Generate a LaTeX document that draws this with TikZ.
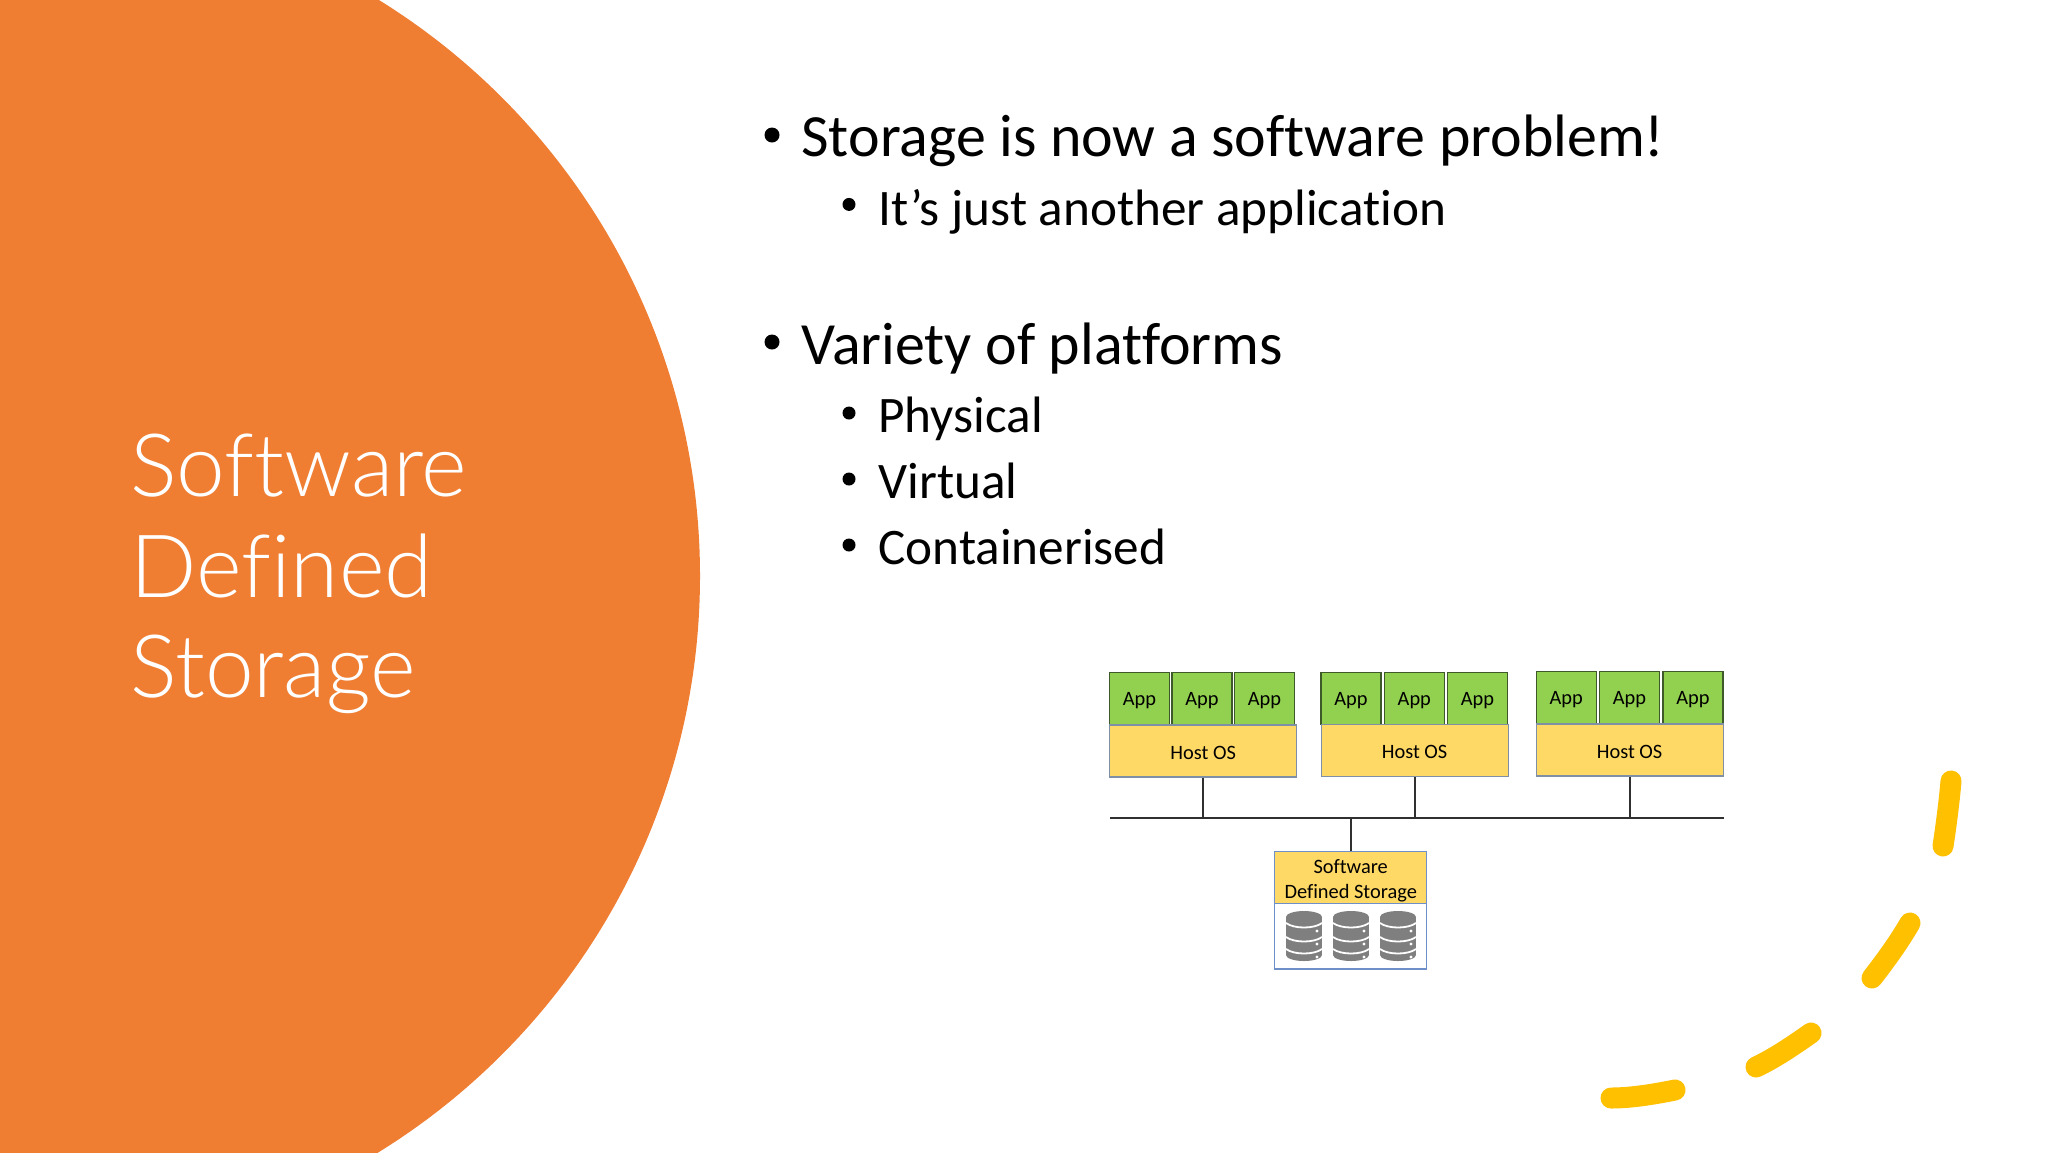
\documentclass[tikz,border=0pt]{standalone}
\usepackage{fontspec}
\setmainfont{Carlito}[Ligatures=NoCommon]
\newfontfamily\titlefont{Lato}[UprightFont=* Light,Ligatures=NoCommon]
\definecolor{orangeC}{HTML}{EF7D32}
\definecolor{appG}{HTML}{92D050}
\definecolor{appEdge}{HTML}{3F5A2A}
\definecolor{hostY}{HTML}{FFD966}
\definecolor{hostEdge}{HTML}{7F8FA6}
\definecolor{stoEdge}{HTML}{6F8FC8}
\definecolor{dashY}{HTML}{FFC000}
\definecolor{diskG}{HTML}{7F7F7F}
\definecolor{lineK}{HTML}{303030}
\tikzset{
  x=0.5pt,y=-0.5pt,
  title/.style={anchor=base west,inner sep=0pt,text=white,font=\titlefont\fontsize{43.7}{44}\selectfont},
  lvlA/.style={anchor=base west,inner sep=0pt,text=black,font=\fontsize{29.95}{30}\selectfont},
  lvlB/.style={anchor=base west,inner sep=0pt,text=black,font=\fontsize{25.6}{26}\selectfont},
  dotA/.style={circle,fill=black,inner sep=0pt,minimum size=7.5pt},
  dotB/.style={circle,fill=black,inner sep=0pt,minimum size=6.5pt},
  app/.style={draw=appEdge,line width=0.6pt,fill=appG,inner sep=0pt,minimum width=30pt,minimum height=26pt,text height=7.1pt,text depth=0pt,font=\fontsize{10.2}{12}\selectfont},
  host/.style={draw=hostEdge,line width=0.6pt,fill=hostY,inner sep=0pt,minimum width=93.5pt,minimum height=26pt,text height=8.2pt,text depth=0pt,font=\fontsize{10.2}{12}\selectfont},
  sdshead/.style={draw=stoEdge,line width=0.6pt,fill=hostY,inner sep=0pt,minimum width=76pt,minimum height=26pt,align=center,font=\fontsize{10.2}{12.5}\selectfont},
  sdsbody/.style={draw=stoEdge,line width=0.6pt,fill=white,inner sep=0pt,minimum width=76pt,minimum height=32.6pt},
  wire/.style={draw=lineK,line width=0.9pt},
  yellowdash/.style={draw=dashY,line width=10.5pt,line cap=round},
  disk/.pic={
    \fill[diskG] (-18,-19) rectangle (18,19);
    \fill[diskG] (0,-19) ellipse [x radius=18,y radius=6];
    \fill[diskG] (0,19) ellipse [x radius=18,y radius=6];
    \draw[white,line width=0.9pt] (-18,-13) .. controls (-10,-7) and (10,-7) .. (18,-13);
    \draw[white,line width=0.9pt] (-18,1) .. controls (-10,7) and (10,7) .. (18,1);
    \draw[white,line width=0.9pt] (-18,13) .. controls (-10,19) and (10,19) .. (18,13);
    \fill[white] (13,-5) circle[radius=1.6];
    \fill[white] (13,8) circle[radius=1.6];
    \fill[white] (13,21) circle[radius=1.6];
  }
}
\begin{document}
\begin{tikzpicture}
\useasboundingbox (0,0) rectangle (2048,1152);
\clip (0,0) rectangle (2048,1152);
\fill[white] (0,0) rectangle (2048,1152);
\fill[orangeC] (23,576) circle[radius=677];

\node[title] (t1) at (130,496) {Software};
\node[title] (t2) at (130,597) {Defined};
\node[title] (t3) at (130,697.5) {Storage};

\node[dotA] (b1) at (772,135) {};
\node[lvlA] (l1) at (801,156) {Storage is now a software problem!};
\node[dotB] (b2) at (849,204.4) {};
\node[lvlB] (l2) at (878,225) {It’s just another application};
\node[dotA] (b3) at (772,342) {};
\node[lvlA] (l3) at (801,364) {Variety of platforms};
\node[dotB] (b4) at (849,413) {};
\node[lvlB] (l4) at (878,432) {Physical};
\node[dotB] (b5) at (849,479) {};
\node[lvlB] (l5) at (878,498) {Virtual};
\node[dotB] (b6) at (849,545) {};
\node[lvlB] (l6) at (878,564) {Containerised};

% group 1
\node[app] (a11) at (1139.5,698.7) {App};
\node[app] (a12) at (1202,698.7) {App};
\node[app] (a13) at (1264.5,698.7) {App};
\node[host] (h1) at (1203.2,751) {Host OS};
% group 2
\node[app] (a21) at (1350.9,698.2) {App};
\node[app] (a22) at (1414.3,698.2) {App};
\node[app] (a23) at (1477.5,698.2) {App};
\node[host] (h2) at (1414.6,750.5) {Host OS};
% group 3
\node[app] (a31) at (1566.2,697.8) {App};
\node[app] (a32) at (1629.5,697.8) {App};
\node[app] (a33) at (1692.9,697.8) {App};
\node[host] (h3) at (1629.6,750) {Host OS};

\coordinate (busL) at (1110,817.6);
\coordinate (busR) at (1724,817.6);
\draw[wire] (busL) -- (busR);
\draw[wire] (h1.south) -- (h1.south |- busL);
\draw[wire] (h2.south) -- (h2.south |- busL);
\draw[wire] (h3.south) -- (h3.south |- busL);

\node[sdsbody] (sb) at (1350.7,936.4) {};
\node[sdshead] (sh) at (1350.7,877.6) {\rule{0pt}{10pt}Software\\Defined Storage};
\draw[wire] (sh.north |- busL) -- (sh.north);

\pic at (1304,936) {disk};
\pic at (1351,936) {disk};
\pic at (1398,936) {disk};

\coordinate (d1a) at (1951,781); \coordinate (d1b) at (1943,846);
\coordinate (d2a) at (1910,923); \coordinate (d2b) at (1872,978);
\coordinate (d3a) at (1811,1033); \coordinate (d3b) at (1756,1067);
\coordinate (d4a) at (1675,1090); \coordinate (d4b) at (1611,1098);
\draw[yellowdash] (d1a) .. controls (1949,804) and (1946,826) .. (d1b);
\draw[yellowdash] (d2a) .. controls (1899,942) and (1886,960) .. (d2b);
\draw[yellowdash] (d3a) .. controls (1794,1045) and (1775,1058) .. (d3b);
\draw[yellowdash] (d4a) .. controls (1655,1094) and (1632,1098) .. (d4b);
\end{tikzpicture}
\end{document}
